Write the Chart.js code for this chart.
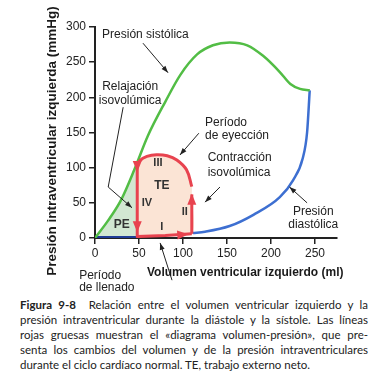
<!DOCTYPE html>
<html>
<head>
<meta charset="utf-8">
<script src="https://cdn.jsdelivr.net/npm/chart.js@4.4.0/dist/chart.umd.min.js"></script>
<style>
  html, body { margin: 0; padding: 0; background: #fff; }
  #wrap { position: relative; width: 378px; height: 295px; }
  #caption {
    position: absolute; left: 20px; top: 297px; width: 348px;
    font-family: Lato, "Noto Sans", sans-serif; font-size: 11.5px;
    line-height: 15px; color: #222;
  }
  #caption div { text-align: justify; text-align-last: justify; }
  #caption div.last { text-align-last: left; }
  #caption b { font-weight: 700; }
</style>
</head>
<body>
<div id="wrap"><canvas id="chart"></canvas></div>
<div id="caption">
  <div><b>Figura 9-8</b>&nbsp; Relación entre el volumen ventricular izquierdo y la</div>
  <div>presión intraventricular durante la diástole y la sístole. Las líneas</div>
  <div>rojas gruesas muestran el «diagrama volumen-presión», que pre-</div>
  <div>senta los cambios del volumen y de la presión intraventriculares</div>
  <div class="last">durante el ciclo cardíaco normal. TE, trabajo externo neto.</div>
</div>
<script>
// volume (ml), pressure (mmHg) pairs
const systolic = [[0, 0], [15, 25], [30, 55], [45, 98], [60, 145], [80, 194], [97, 232],
  [116, 261], [134, 274], [153, 278], [173, 274], [191, 259], [210, 236], [222, 219], [233, 212], [244, 210]];
const diastolic = [[111, 7], [125, 9], [153, 17], [180, 33], [210, 58], [225, 82], [236, 113],
  [241, 150], [244, 210]];
const fillingBase = [[0, 1], [48, 1]];
const loopI = [[48, 2], [80, 3.5], [110, 6]];
const loopII = [[110, 6], [110, 62]];
const loopIII = [[110, 73], [104, 97], [93, 111], [82, 117], [70, 118.5], [59, 116], [51, 110], [48, 101]];
const loopIV = [[48, 101], [48, 2]];
const peArea = [[0, 0], [15, 25], [30, 55], [45, 98], [48, 107]];

const xTickValues = [0, 50, 100, 150, 200, 250];
const yTickValues = [0, 50, 100, 150, 200, 250, 300];

// red arrowheads: [fromX, fromY, tipX, tipY]
const loopArrows = [[95, 4.5, 106, 5.5], [110, 50, 110, 63], [48, 108, 48, 94], [48, 20, 48, 8]];

// annotation labels: [text, x, y, align, bold, size]
const labels = [
  ["Presión sistólica", 8, 289, "left", false, 12],
  ["Relajación", 40, 215, "center", false, 12],
  ["isovolúmica", 40, 195, "center", false, 12],
  ["Período", 125, 164, "left", false, 12],
  ["de eyección", 125, 145, "left", false, 12],
  ["Contracción", 128, 114, "left", false, 12],
  ["isovolúmica", 128, 93, "left", false, 12],
  ["Presión", 248, 38, "center", false, 12],
  ["diastólica", 248, 18.5, "center", false, 12],
  ["Período", -18, -53, "left", false, 12],
  ["de llenado", -18, -71, "left", false, 12],
  ["III", 71.5, 107, "center", true, 11],
  ["TE", 76, 75, "center", true, 12],
  ["IV", 59, 50, "center", true, 11],
  ["II", 102, 37, "center", true, 11],
  ["PE", 30.5, 18.5, "center", true, 12],
  ["I", 76, 15.5, "center", true, 11],
];

// black pointer lines, last point gets the arrowhead
const pointers = [
  [[54.5, 277], [83, 235]],
  [[32, 186], [15, 72.5], [42, 43]],
  [[118, 149], [96.5, 118]],
  [[142, 72.5], [125, 51]],
  [[241, 50], [221, 72.5]],
  [[87.5, -60], [74, -7]],
];

const toXY = (arr) => arr.map(([x, y]) => ({ x, y }));

function arrowHead(ctx, x0, y0, x1, y1, len, w) {
  const a = Math.atan2(y1 - y0, x1 - x0);
  const c = Math.cos(a), s = Math.sin(a);
  ctx.beginPath();
  ctx.moveTo(x1, y1);
  ctx.lineTo(x1 - len * c + (w / 2) * s, y1 - len * s - (w / 2) * c);
  ctx.lineTo(x1 - len * c - (w / 2) * s, y1 - len * s + (w / 2) * c);
  ctx.closePath();
  ctx.fill();
}

const annotations = {
  id: "annotations",
  afterDatasetsDraw(chart) {
    const { ctx } = chart;
    const xs = chart.scales.x, ys = chart.scales.y;
    const px = (v) => xs.getPixelForValue(v), py = (v) => ys.getPixelForValue(v);
    ctx.save();

    // red arrowheads on the loop
    ctx.fillStyle = "#e8434f";
    loopArrows.forEach(([x0, y0, x1, y1]) => arrowHead(ctx, px(x0), py(y0), px(x1), py(y1), 11, 9));

    // pointers
    ctx.strokeStyle = "#222";
    ctx.fillStyle = "#222";
    ctx.lineWidth = 1;
    pointers.forEach((pts) => {
      ctx.beginPath();
      pts.forEach(([x, y], i) => (i ? ctx.lineTo(px(x), py(y)) : ctx.moveTo(px(x), py(y))));
      ctx.stroke();
      const [a, b] = pts.slice(-2);
      arrowHead(ctx, px(a[0]), py(a[1]), px(b[0]), py(b[1]), 7, 5);
    });

    // text
    ctx.textBaseline = "middle";
    labels.forEach(([t, x, y, align, bold, size]) => {
      ctx.font = (bold ? "bold " : "") + size + "px 'Liberation Sans', Arial, sans-serif";
      ctx.fillStyle = bold ? "#333" : "#222";
      ctx.textAlign = align;
      ctx.fillText(t, px(x), py(y));
    });

    // axis titles
    ctx.fillStyle = "#1a1a1a";
    ctx.font = "bold 12px 'Liberation Sans', Arial, sans-serif";
    ctx.textAlign = "left";
    ctx.fillText("Volumen ventricular izquierdo (ml)", 147, 273);
    ctx.font = "bold 13.5px 'Liberation Sans', Arial, sans-serif";
    ctx.translate(52, 141);
    ctx.rotate(-Math.PI / 2);
    ctx.textAlign = "center";
    ctx.fillText("Presión intraventricular izquierda (mmHg)", 0, 0);
    ctx.restore();
  },
};

const lineDs = (data, color, width, order, smooth) => ({
  data: toXY(data), borderColor: color, borderWidth: width, pointRadius: 0,
  showLine: true, fill: false, order, borderCapStyle: "butt", borderJoinStyle: "round",
  cubicInterpolationMode: smooth === "mono" ? "monotone" : "default",
  tension: smooth ? 0.4 : 0,
});

new Chart(document.getElementById("chart"), {
  type: "scatter",
  data: {
    datasets: [
      { data: toXY(peArea), showLine: true, borderWidth: 0, pointRadius: 0,
        cubicInterpolationMode: "monotone", backgroundColor: "#d2e7d2", fill: "origin", order: 10 },
      { data: toXY([...loopI, ...loopII.slice(1), ...loopIII, ...loopIV.slice(1)]), showLine: true,
        borderWidth: 0, pointRadius: 0, tension: 0.3, backgroundColor: "#fbe4d5", fill: "shape", order: 9 },
      lineDs(systolic, "#52bd45", 2.5, 2, "mono"),
      lineDs(diastolic, "#3d6fd1", 2.5, 2, "mono"),
      lineDs(fillingBase, "#1f3c96", 2.5, 2),
      lineDs(loopI, "#e8434f", 3, 1),
      lineDs(loopII, "#e8434f", 3, 1),
      lineDs(loopIII, "#e8434f", 3, 1, "curve"),
      lineDs(loopIV, "#e8434f", 3, 1),
    ],
  },
  options: {
    responsive: true,
    maintainAspectRatio: false,
    devicePixelRatio: 1,
    animation: false,
    layout: { padding: { left: 0, right: 41, top: 27, bottom: 0 } },
    plugins: { legend: { display: false }, tooltip: { enabled: false } },
    scales: {
      x: {
        type: "linear", min: 0, max: 275,
        afterBuildTicks: (s) => { s.ticks = xTickValues.map((value) => ({ value })); },
        afterFit: (s) => { s.height = 57; },
        grid: { drawOnChartArea: false, drawTicks: true, tickLength: 6, color: "#222", lineWidth: 1.5 },
        border: { color: "#222", width: 2 },
        ticks: { color: "#222", padding: 2, maxRotation: 0, font: { size: 12, family: "'Liberation Sans', Arial" } },
      },
      y: {
        type: "linear", min: 0, max: 300,
        afterBuildTicks: (s) => { s.ticks = yTickValues.map((value) => ({ value })); },
        afterFit: (s) => { s.width = 95; },
        grid: { drawOnChartArea: false, drawTicks: true, tickLength: 6, color: "#222", lineWidth: 1.5 },
        border: { color: "#222", width: 2 },
        ticks: { color: "#222", padding: 3, font: { size: 12, family: "'Liberation Sans', Arial" } },
      },
    },
  },
  plugins: [annotations],
});
</script>
</body>
</html>
